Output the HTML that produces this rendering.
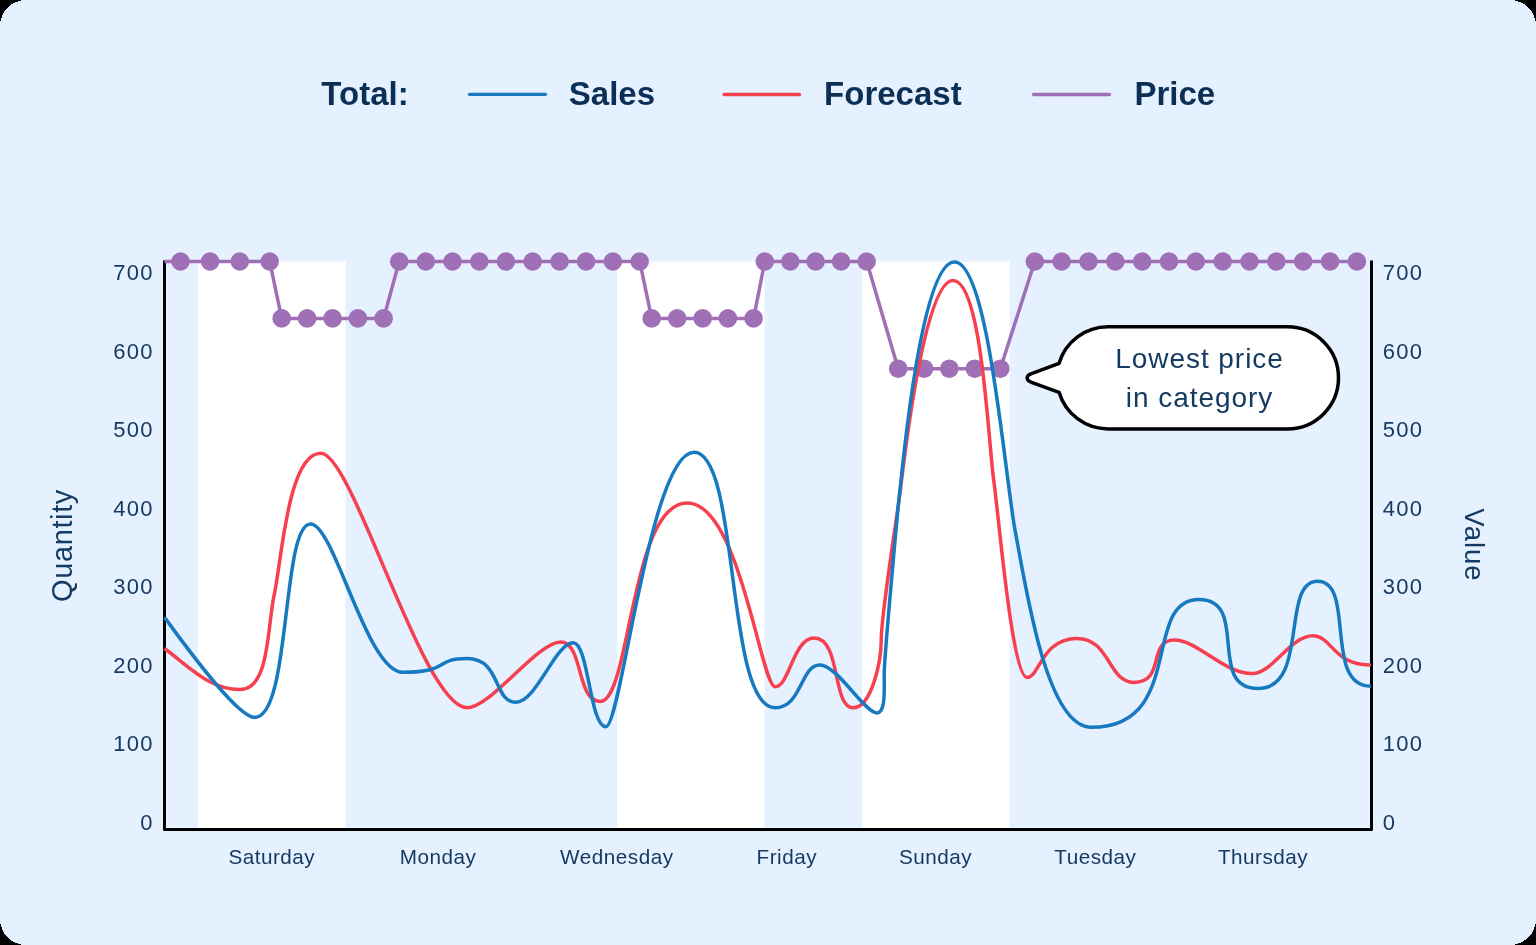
<!DOCTYPE html>
<html><head><meta charset="utf-8"><style>
html,body{margin:0;padding:0;background:#000;}
body{width:1536px;height:945px;overflow:hidden;}
svg{display:block;font-family:"Liberation Sans",sans-serif;will-change:transform;}
</style></head><body>
<svg width="1536" height="945" viewBox="0 0 1536 945">
<rect x="0" y="0" width="1536" height="945" fill="#000"/>
<rect x="0" y="0" width="1536" height="945" rx="27" ry="27" fill="#fff" shape-rendering="crispEdges"/>
<rect x="0" y="0" width="1536" height="945" rx="26" ry="26" fill="#e5f1fe" shape-rendering="crispEdges"/>
<g fill="#0b2f55" font-weight="bold" font-size="33">
<text x="321.3" y="105">Total:</text>
<text x="568.8" y="105">Sales</text>
<text x="824.1" y="105">Forecast</text>
<text x="1134.5" y="105">Price</text>
</g>
<g stroke-width="3.3" stroke-linecap="round">
<line x1="469.5" y1="94.3" x2="545.5" y2="94.3" stroke="#177ac1"/>
<line x1="724" y1="94.5" x2="799.5" y2="94.5" stroke="#f6404f"/>
<line x1="1033.5" y1="94.5" x2="1109.5" y2="94.5" stroke="#a070b6"/>
</g>
<g fill="#fff">
<rect x="197.8" y="261.5" width="147.6" height="567"/>
<rect x="617.1" y="261.5" width="147.4" height="567"/>
<rect x="861.9" y="261.5" width="147.7" height="567"/>
</g>
<g fill="#163a61" font-size="22" letter-spacing="1.2">
<text x="153.6" y="829.7" text-anchor="end">0</text><text x="153.6" y="751.2" text-anchor="end">100</text><text x="153.6" y="672.7" text-anchor="end">200</text><text x="153.6" y="594.2" text-anchor="end">300</text><text x="153.6" y="515.7" text-anchor="end">400</text><text x="153.6" y="437.2" text-anchor="end">500</text><text x="153.6" y="358.6" text-anchor="end">600</text><text x="153.6" y="280.1" text-anchor="end">700</text>
<text x="1382.8" y="829.7">0</text><text x="1382.8" y="751.2">100</text><text x="1382.8" y="672.7">200</text><text x="1382.8" y="594.2">300</text><text x="1382.8" y="515.7">400</text><text x="1382.8" y="437.2">500</text><text x="1382.8" y="358.6">600</text><text x="1382.8" y="280.1">700</text>
</g>
<g fill="#163a61" font-size="20.7" letter-spacing="0.5">
<text x="271.8" y="864.2" text-anchor="middle">Saturday</text><text x="438.1" y="864.2" text-anchor="middle">Monday</text><text x="616.8" y="864.2" text-anchor="middle">Wednesday</text><text x="786.8" y="864.2" text-anchor="middle">Friday</text><text x="935.5" y="864.2" text-anchor="middle">Sunday</text><text x="1095.4" y="864.2" text-anchor="middle">Tuesday</text><text x="1263.0" y="864.2" text-anchor="middle">Thursday</text>
</g>
<g fill="#163a61" font-size="29" letter-spacing="0.6">
<text transform="translate(71.7,545.5) rotate(-90)" text-anchor="middle">Quantity</text>
<text transform="translate(1464.5,545) rotate(90)" text-anchor="middle" font-size="27.5" letter-spacing="1">Value</text>
</g>
<path d="M164.5,260.5 L164.5,829.6 L1371.5,829.6 L1371.5,260.5" fill="none" stroke="#000" stroke-width="3" stroke-linejoin="round"/>
<path d="M164.5,261.5 L180.5,261.5 L210.1,261.5 L239.8,261.5 L269.7,261.5 L281.7,318.4 L307.1,318.4 L332.6,318.4 L357.9,318.4 L383.6,318.4 L399.2,261.5 L425.8,261.5 L452.5,261.5 L479.3,261.5 L505.9,261.5 L532.7,261.5 L559.6,261.5 L586.1,261.5 L612.9,261.5 L639.7,261.5 L651.7,318.4 L677.2,318.4 L702.7,318.4 L727.9,318.4 L753.6,318.4 L764.8,261.5 L790.3,261.5 L815.6,261.5 L841.1,261.5 L866.7,261.5 L898.2,368.7 L924.0,368.7 L949.3,368.7 L974.8,368.7 L1000.3,368.7 L1034.8,261.5 L1061.6,261.5 L1088.5,261.5 L1115.3,261.5 L1142.2,261.5 L1169.0,261.5 L1195.8,261.5 L1222.7,261.5 L1249.5,261.5 L1276.4,261.5 L1303.2,261.5 L1330.1,261.5 L1356.9,261.5" fill="none" stroke="#a070b6" stroke-width="3.5"/>
<g fill="#a070b6"><circle cx="180.5" cy="261.5" r="9.3"/><circle cx="210.1" cy="261.5" r="9.3"/><circle cx="239.8" cy="261.5" r="9.3"/><circle cx="269.7" cy="261.5" r="9.3"/><circle cx="281.7" cy="318.4" r="9.3"/><circle cx="307.1" cy="318.4" r="9.3"/><circle cx="332.6" cy="318.4" r="9.3"/><circle cx="357.9" cy="318.4" r="9.3"/><circle cx="383.6" cy="318.4" r="9.3"/><circle cx="399.2" cy="261.5" r="9.3"/><circle cx="425.8" cy="261.5" r="9.3"/><circle cx="452.5" cy="261.5" r="9.3"/><circle cx="479.3" cy="261.5" r="9.3"/><circle cx="505.9" cy="261.5" r="9.3"/><circle cx="532.7" cy="261.5" r="9.3"/><circle cx="559.6" cy="261.5" r="9.3"/><circle cx="586.1" cy="261.5" r="9.3"/><circle cx="612.9" cy="261.5" r="9.3"/><circle cx="639.7" cy="261.5" r="9.3"/><circle cx="651.7" cy="318.4" r="9.3"/><circle cx="677.2" cy="318.4" r="9.3"/><circle cx="702.7" cy="318.4" r="9.3"/><circle cx="727.9" cy="318.4" r="9.3"/><circle cx="753.6" cy="318.4" r="9.3"/><circle cx="764.8" cy="261.5" r="9.3"/><circle cx="790.3" cy="261.5" r="9.3"/><circle cx="815.6" cy="261.5" r="9.3"/><circle cx="841.1" cy="261.5" r="9.3"/><circle cx="866.7" cy="261.5" r="9.3"/><circle cx="898.2" cy="368.7" r="9.3"/><circle cx="924.0" cy="368.7" r="9.3"/><circle cx="949.3" cy="368.7" r="9.3"/><circle cx="974.8" cy="368.7" r="9.3"/><circle cx="1000.3" cy="368.7" r="9.3"/><circle cx="1034.8" cy="261.5" r="9.3"/><circle cx="1061.6" cy="261.5" r="9.3"/><circle cx="1088.5" cy="261.5" r="9.3"/><circle cx="1115.3" cy="261.5" r="9.3"/><circle cx="1142.2" cy="261.5" r="9.3"/><circle cx="1169.0" cy="261.5" r="9.3"/><circle cx="1195.8" cy="261.5" r="9.3"/><circle cx="1222.7" cy="261.5" r="9.3"/><circle cx="1249.5" cy="261.5" r="9.3"/><circle cx="1276.4" cy="261.5" r="9.3"/><circle cx="1303.2" cy="261.5" r="9.3"/><circle cx="1330.1" cy="261.5" r="9.3"/><circle cx="1356.9" cy="261.5" r="9.3"/></g>
<path d="M164.5,648.5 C187.9,665.4 208.8,689.6 240.0,689.6 C269.9,689.6 267.0,626.9 274.3,594.4 C281.5,561.9 287.8,453.3 320.8,453.3 C353.5,453.3 422.3,707.8 467.5,707.8 C490.5,707.8 537.7,641.9 560.6,641.9 C583.5,641.9 576.0,701.4 600.3,701.4 C630.5,701.4 630.4,503.0 687.2,503.0 C740.0,503.0 760.8,686.7 775.2,686.7 C789.5,686.7 793.1,637.9 814.1,637.9 C841.2,637.9 832.1,707.8 853.0,707.8 C871.3,707.8 881.3,662.5 881.3,638.5 C881.3,614.4 897.4,514.3 900.5,489.1 C903.7,463.8 923.9,280.5 953.1,280.5 C981.6,280.5 988.1,439.2 993.6,479.2 C999.2,519.3 1012.1,677.4 1027.1,677.4 C1039.6,677.4 1041.5,638.4 1077.0,638.4 C1109.9,638.4 1108.3,682.4 1133.8,682.4 C1166.1,682.4 1147.0,640.1 1174.4,640.1 C1197.7,640.1 1223.6,673.6 1252.3,673.6 C1272.6,673.6 1290.2,635.8 1313.0,635.8 C1331.8,635.8 1333.8,665.9 1371.0,665.0" fill="none" stroke="#f6404f" stroke-width="3.5" stroke-linejoin="round"/>
<path d="M164.5,617.5 C168.9,622.4 234.7,717.4 254.7,717.4 C291.1,717.4 281.4,524.0 310.6,524.0 C334.5,524.0 366.5,672.3 403.0,672.3 C451.3,672.3 433.1,658.6 467.0,658.6 C501.5,658.6 493.1,702.2 515.9,702.2 C536.4,702.2 555.5,642.7 573.3,642.7 C588.5,642.7 589.8,726.8 605.9,726.8 C621.3,726.8 649.9,452.2 694.0,452.2 C739.9,452.2 725.1,707.8 775.2,707.8 C801.5,707.8 800.8,664.9 819.7,664.9 C837.3,664.9 864.5,712.9 876.7,712.9 C885.8,712.9 884.2,689.6 884.2,673.7 C884.2,657.7 897.8,508.6 899.9,490.4 C902.1,472.2 920.8,261.9 954.5,261.9 C988.7,261.9 1004.7,476.9 1015.4,532.2 C1026.1,587.4 1046.0,727.3 1091.4,727.3 C1186.2,727.3 1141.2,599.4 1198.9,599.4 C1250.5,599.4 1205.6,688.5 1258.2,688.5 C1309.3,688.5 1280.6,581.3 1317.5,581.3 C1356.0,581.3 1323.1,686.8 1371.0,686.2" fill="none" stroke="#177ac1" stroke-width="3.5" stroke-linejoin="round"/>
<path d="M1108,326.8 L1287.45,326.8 A51.05,51.05 0 0 1 1287.45,428.9 L1108,428.9 A51.05,51.05 0 0 1 1059.1,392.3 L1031.5,382.3 C1025.7,380.2 1025.7,375.8 1031.5,373.7 L1059.1,363.3 A51.05,51.05 0 0 1 1108,326.8 Z" fill="#fff" stroke="#000" stroke-width="3.5" stroke-linejoin="round"/>
<g fill="#163a61" font-size="28" text-anchor="middle" letter-spacing="0.95">
<text x="1199.5" y="368">Lowest price</text>
<text x="1199.5" y="406.7">in category</text>
</g>
</svg>
</body></html>
